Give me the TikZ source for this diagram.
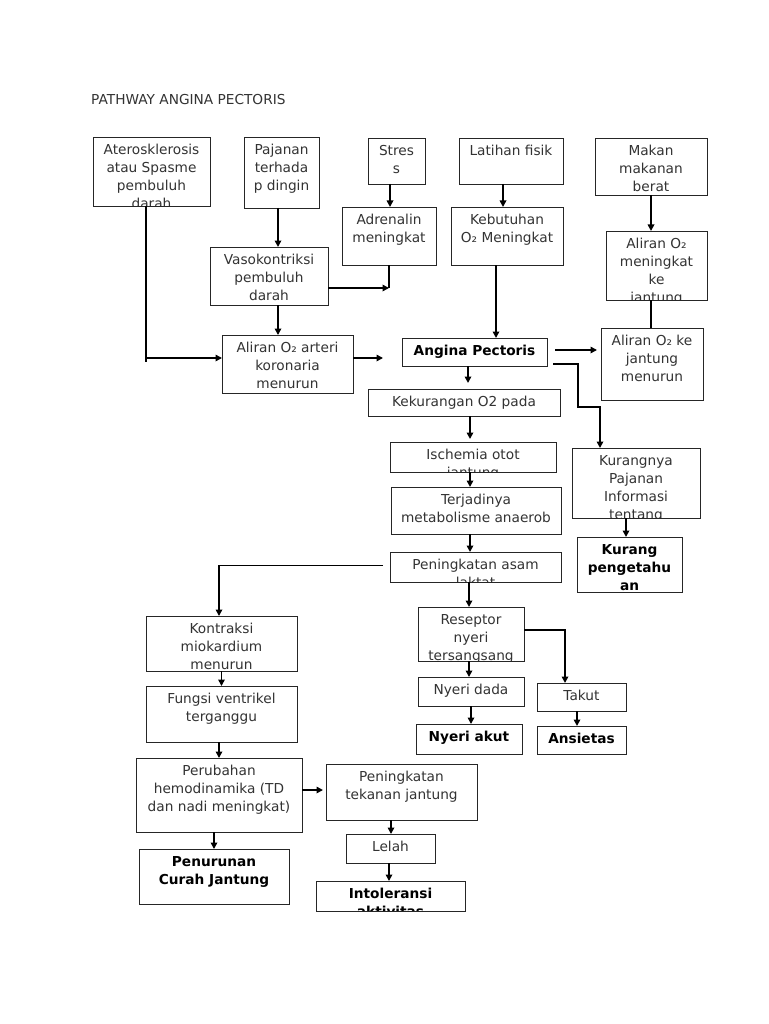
\documentclass[tikz,border=0pt]{standalone}
\usepackage{fontspec}
\setmainfont{DejaVu Sans}
\usetikzlibrary{arrows.meta}
\tikzset{
  box/.style={draw=black!85, line width=0.9pt, minimum width=0pt, minimum height=0pt, inner sep=0pt, outer sep=0pt},
  boxtext/.style={draw=none, minimum width=0pt, minimum height=0pt, font=\fontsize{13.7}{18}\selectfont, text=black!80, align=center, inner sep=0pt},
  boldtext/.style={font=\fontsize{13.7}{18}\selectfont\bfseries, text=black},
  conn/.style={line width=1.6pt, black},
  arr/.style={conn, -{Triangle[length=6.5pt,width=6.5pt]}},
  thinconn/.style={line width=0.9pt, black}
}
\newcommand\bx[7][]{%
  \pgfmathsetmacro\bxw{#5-#3}\pgfmathsetmacro\bxh{#6-#4}%
  \node[box, minimum width=\bxw pt, minimum height=\bxh pt,
    path picture={\node[boxtext,#1,anchor=north] at ([yshift=-4.6pt]path picture bounding box.north) {\strut #7};}]
    (#2) at ({(#3+#5)/2},{(#4+#6)/2}) {};}
\begin{document}
\begin{tikzpicture}[x=1pt,y=-1pt]
\fill[white] (0,0) rectangle (768,1024);
\path[use as bounding box] (0,0) rectangle (768,1024);

\node[boxtext, anchor=base west, text=black!80] (title) at (91,105) {PATHWAY ANGINA PECTORIS};

% boxes
\bx{atero}{93}{137}{210}{206}{Aterosklerosis\\atau Spasme\\pembuluh\\darah}
\bx{pajanan}{244}{137}{319}{208}{Pajanan\\terhada\\p dingin}
\bx{stres}{368}{138}{425}{184}{Stres\\s}
\bx{adrenalin}{342}{207}{436}{265}{Adrenalin\\meningkat}
\bx{vaso}{210}{247}{328}{305}{Vasokontriksi\\pembuluh\\darah}
\bx{aliranA}{222}{335}{353}{393}{Aliran O₂ arteri\\koronaria\\menurun}
\bx[boldtext]{angina}{402}{338}{547}{366}{Angina Pectoris}
\bx{latihan}{459}{138}{563}{184}{Latihan fisik}
\bx{kebutuhan}{451}{207}{563}{265}{Kebutuhan\\O₂ Meningkat}
\bx{makan}{595}{138}{707}{195}{Makan\\makanan\\berat}
\bx{aliranM}{606}{231}{707}{300}{Aliran O₂\\meningkat\\ke\\jantung}
\bx{aliranK}{601}{328}{703}{400}{Aliran O₂ ke\\jantung\\menurun}
\bx{kekurangan}{368}{389}{560}{416}{Kekurangan O2 pada}
\bx{ischemia}{390}{442}{556}{472}{Ischemia otot\\jantung}
\bx{terjadinya}{391}{487}{561}{534}{Terjadinya\\metabolisme anaerob}
\bx{asam}{390}{552}{561}{582}{Peningkatan asam\\laktat}
\bx{kurangnya}{572}{448}{700}{518}{Kurangnya\\Pajanan\\Informasi\\tentang}
\bx[boldtext]{kurang}{577}{537}{682}{592}{Kurang\\pengetahu\\an}
\bx{kontraksi}{146}{616}{297}{671}{Kontraksi\\miokardium\\menurun}
\bx{fungsi}{146}{686}{297}{742}{Fungsi ventrikel\\terganggu}
\bx{perubahan}{136}{758}{302}{832}{Perubahan\\hemodinamika (TD\\dan nadi meningkat)}
\bx[boldtext]{penurunan}{139}{849}{289}{904}{Penurunan\\Curah Jantung}
\bx{tekanan}{326}{764}{477}{820}{Peningkatan\\tekanan jantung}
\bx{lelah}{346}{834}{435}{863}{Lelah}
\bx[boldtext]{intoleransi}{316}{881}{465}{911}{Intoleransi\\aktivitas}
\bx{reseptor}{418}{607}{524}{661}{Reseptor\\nyeri\\tersangsang}
\bx{nyeridada}{418}{677}{524}{706}{Nyeri dada}
\bx[boldtext]{nyeriakut}{416}{724}{522}{754}{Nyeri akut}
\bx{takut}{537}{683}{626}{711}{Takut}
\bx[boldtext]{ansietas}{537}{726}{626}{754}{Ansietas}

% connectors
\draw[arr] ([xshift=-5.5pt]atero.south) |- ([yshift=6pt]aliranA.west);
\draw[conn] ([xshift=-5.5pt,yshift=-150pt]atero.south) -- ++(0,6);
\draw[arr] ([xshift=-3.5pt]pajanan.south) -- ([xshift=-3.5pt]pajanan.south |- vaso.north);
\draw[arr] ([xshift=-6.5pt]stres.south) -- ([xshift=-6.5pt]stres.south |- adrenalin.north);
\coordinate (vcorner) at ([yshift=-12pt]vaso.east -| adrenalin.south);
\draw[conn] (adrenalin.south) -- (vcorner);
\draw[arr] ([yshift=-12pt]vaso.east) -- (vcorner);
\draw[arr] ([xshift=9pt]vaso.south) -- ([xshift=9pt]vaso.south |- aliranA.north);
\draw[arr] ([yshift=6pt]aliranA.east) -- ++(30,0);
\draw[arr] ([xshift=-8pt]latihan.south) -- ([xshift=-8pt]latihan.south |- kebutuhan.north);
\draw[arr] ([xshift=-11pt]kebutuhan.south) -- ([xshift=-11pt]kebutuhan.south |- angina.north);
\draw[arr] (makan.south) -- (makan.south |- aliranM.north);
\draw[conn] (makan.south |- aliranM.south) -- (makan.south |- aliranK.north);
\draw[arr] ([xshift=8pt,yshift=2pt]angina.east) -- ([xshift=-4pt,yshift=2pt]aliranK.west |- angina.east);
\draw[arr] ([xshift=-6.5pt]angina.south) -- ++(0,17);
\draw[arr] ([xshift=6pt,yshift=2pt]angina.south east) -- ++(25,0) -- ++(0,43) -- ++(22,0) -- ([xshift=-36pt]kurangnya.north);
\draw[arr] ([xshift=6pt]kekurangan.south) -- ([xshift=6pt,yshift=3pt]kekurangan.south |- ischemia.north);
\draw[arr] ([xshift=-3pt]ischemia.south) -- ([xshift=-3pt]ischemia.south |- terjadinya.north);
\draw[arr] ([xshift=-6pt]terjadinya.south) -- ([xshift=-6pt]terjadinya.south |- asam.north);
\draw[thinconn] ([xshift=-7pt,yshift=2pt]asam.west) -- ([xshift=-2.5pt,yshift=2pt]kontraksi.north |- asam.west);
\draw[arr] ([xshift=-2.5pt,yshift=2pt]kontraksi.north |- asam.west) -- ([xshift=-2.5pt]kontraksi.north);
\draw[arr] ([xshift=-6.5pt]asam.south) -- ([xshift=-6.5pt]asam.south |- reseptor.north);
\draw[arr] ([xshift=-2pt]reseptor.south) -- ([xshift=-2pt]reseptor.south |- nyeridada.north);
\draw[arr] (nyeridada.south) -- (nyeridada.south |- nyeriakut.north);
\draw[arr] ([yshift=4pt]reseptor.east) -| ([xshift=-16.5pt]takut.north);
\draw[arr] ([xshift=-4.5pt]takut.south) -- ([xshift=-4.5pt]takut.south |- ansietas.north);
\draw[arr] ([xshift=-10pt]kurangnya.south) -- ([xshift=-10pt]kurangnya.south |- kurang.north);
\draw[arr] (kontraksi.south) -- (kontraksi.south |- fungsi.north);
\draw[arr] ([xshift=-2.5pt]fungsi.south) -- ([xshift=-2.5pt]fungsi.south |- perubahan.north);
\draw[arr] ([yshift=5pt]perubahan.east) -- ([xshift=-3pt,yshift=5pt]tekanan.west |- perubahan.east);
\draw[arr] ([xshift=-5pt]perubahan.south) -- ([xshift=-5pt]perubahan.south |- penurunan.north);
\draw[arr] ([xshift=-10.5pt]tekanan.south) -- ([xshift=-10.5pt]tekanan.south |- lelah.north);
\draw[arr] ([xshift=-1.5pt]lelah.south) -- ([xshift=-1.5pt]lelah.south |- intoleransi.north);
\end{tikzpicture}
\end{document}
